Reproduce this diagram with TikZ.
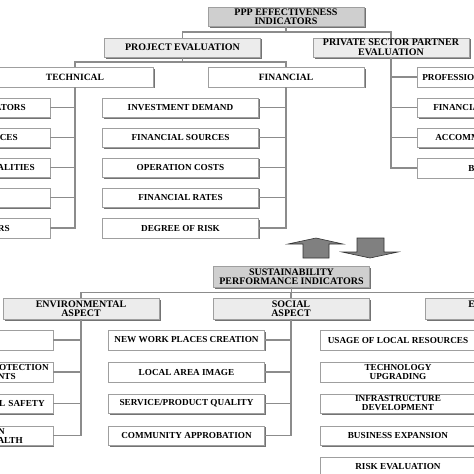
\documentclass[tikz,border=0pt]{standalone}
\usepackage{fontspec}
\setmainfont{Liberation Serif}
\usetikzlibrary{shadows}
\tikzset{
  itembox/.style={draw=gray!75, line width=0.5pt, fill=white, minimum width=156pt, minimum height=19.5pt,
    inner xsep=2pt, inner ysep=1pt, align=center, font=\fontsize{9.2}{9}\selectfont\bfseries,
    drop shadow={shadow xshift=1.6pt, shadow yshift=-1.6pt, fill=black!55, opacity=1}},
  headbox/.style={itembox, font=\fontsize{9.6}{9.5}\selectfont\bfseries},
  aspectbox/.style={itembox, fill=gray!15, font=\fontsize{10}{9.5}\selectfont\bfseries},
  mainbox/.style={aspectbox, fill=gray!38},
  cutl/.style={itembox, anchor=east, text width=150pt, align=right, inner xsep=#1},
  cutr/.style={itembox, anchor=west, text width=150pt, align=left, inner xsep=#1},
  link/.style={draw=gray!90, line width=1.2pt},
  bigarrow/.style={fill=black!50, draw=black!80, line width=0.6pt}
}
\begin{document}
\begin{tikzpicture}[x=1pt, y=-1pt]
\useasboundingbox (0,0) rectangle (474,474);
\clip (0,0) rectangle (474,474);
% PPP side
\node[mainbox] (ppp) at (286,16.5) {PPP EFFECTIVENESS\\INDICATORS};
\node[aspectbox] (proj) at (182.5,47.5) {PROJECT EVALUATION};
\node[aspectbox] (priv) at (391,47.5) {PRIVATE SECTOR PARTNER\\EVALUATION};
\node[headbox] (tech) at (75,77) {TECHNICAL};
\node[headbox] (fin) at (286,77) {FINANCIAL};
\node[cutl=24] (t1) at (50,107.5) {ATORS};
\node[cutl=32] (t2) at (50,137.5) {RCES};
\node[cutl=15] (t3) at (50,167.5) {ALITIES};
\node[cutl=15] (t4) at (50,197.5) {};
\node[cutl=40] (t5) at (50,228) {RS};
\node[itembox] (f1) at (180.5,107.5) {INVESTMENT DEMAND};
\node[itembox] (f2) at (180.5,137.5) {FINANCIAL SOURCES};
\node[itembox] (f3) at (180.5,167.5) {OPERATION COSTS};
\node[itembox] (f4) at (180.5,197.5) {FINANCIAL RATES};
\node[itembox] (f5) at (180.5,228) {DEGREE OF RISK};
\node[cutr=5] (p1) at (417,77) {PROFESSIO};
\node[cutr=16] (p2) at (417,107.5) {FINANCIA};
\node[cutr=18] (p3) at (417,137.5) {ACCOMM};
\node[cutr=51] (p4) at (417,168) {B};
\draw[link] (ppp.south) -- ++(0,5.5) coordinate (j1) -| (proj.north);
\draw[link] (j1) -| (priv.north);
\draw[link] (proj.south) -- ++(0,4.5) coordinate (j2) -| (tech.north);
\draw[link] (j2) -| (fin.north);
\foreach \i in {1,...,5} \draw[link] (tech.south) |- (t\i.east);
\foreach \i in {1,...,5} \draw[link] (fin.south) |- (f\i.east);
\foreach \i in {1,...,4} \draw[link] (priv.south) |- (p\i.west);
% arrows between the two trees
\filldraw[bigarrow] (303,258) -- (303,244) -- (288,244) -- (316,238) -- (343,244) -- (329,244) -- (329,258) -- cycle;
\filldraw[bigarrow] (357,238) -- (384,238) -- (384,252) -- (398,252) -- (370,258) -- (342,252) -- (357,252) -- cycle;
% sustainability side
\node[mainbox, minimum height=21pt] (sust) at (291.5,276.5) {SUSTAINABILITY\\PERFORMANCE INDICATORS};
\node[aspectbox, minimum height=21pt] (env) at (81,308.5) {ENVIRONMENTAL\\ASPECT};
\node[aspectbox, minimum height=21pt] (soc) at (291,308.5) {SOCIAL\\ASPECT};
\node[cutr=43, fill=gray!15, font=\fontsize{10}{9.5}\selectfont\bfseries, minimum height=21pt] (eco) at (425,308.5) {ECONOMIC\\\mbox{}};
\node[cutl=4] (e1) at (53,340) {};
\node[cutl=4] (e2) at (53,372) {ROTECTION\\NTS\rule{33pt}{0pt}};
\node[cutl=8] (e3) at (53,403.5) {AL SAFETY};
\node[cutl=30] (e4) at (53,435.5) {N\rule{18pt}{0pt}\\EALTH};
\node[itembox] (s1) at (186.5,340) {NEW WORK PLACES CREATION};
\node[itembox] (s2) at (186.5,372) {LOCAL AREA IMAGE};
\node[itembox] (s3) at (186.5,403.5) {SERVICE/PRODUCT QUALITY};
\node[itembox] (s4) at (186.5,435.5) {COMMUNITY APPROBATION};
\node[itembox] (c1) at (398,340) {USAGE OF LOCAL RESOURCES};
\node[itembox] (c2) at (398,372) {TECHNOLOGY\\UPGRADING};
\node[itembox] (c3) at (398,403.5) {INFRASTRUCTURE\\DEVELOPMENT};
\node[itembox] (c4) at (398,435.5) {BUSINESS EXPANSION};
\node[itembox] (c5) at (398,467) {RISK EVALUATION};
\draw[link] (sust.south) -- ++(0,5) coordinate (j3) -| (env.north);
\draw[link] (j3) -| (soc.north);
\draw[link] (j3) -| (eco.north);
\foreach \i in {1,...,4} \draw[link] (env.south) |- (e\i.east);
\foreach \i in {1,...,4} \draw[link] (soc.south) |- (s\i.east);
\foreach \i in {1,...,5} \draw[link] (eco.south) |- (c\i.east);
\end{tikzpicture}
\end{document}
